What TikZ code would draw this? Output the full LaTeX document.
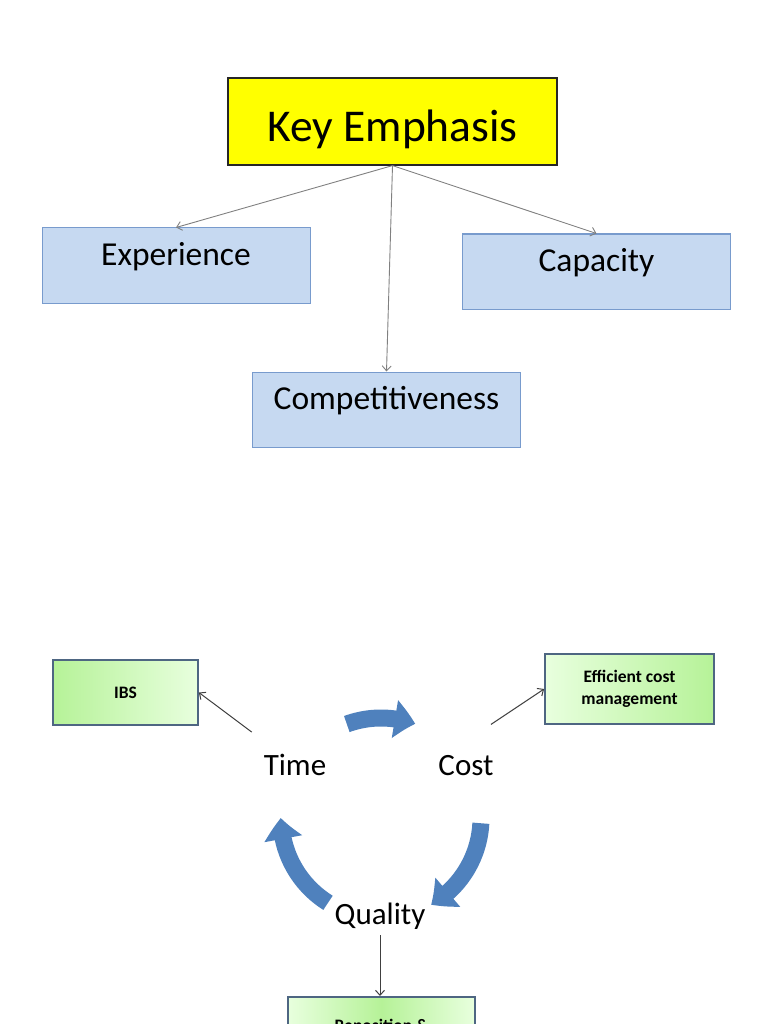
\documentclass[tikz,border=0pt]{standalone}
\usepackage{fontspec}
\setmainfont{Carlito}
\usetikzlibrary{arrows.meta}
\usetikzlibrary{bending}
\usetikzlibrary{positioning}
\usetikzlibrary{calc}
\definecolor{keyyellow}{RGB}{255,255,0}
\definecolor{factorblue}{RGB}{198,217,241}
\definecolor{factorline}{RGB}{120,155,205}
\definecolor{cycleblue}{RGB}{79,129,189}
\definecolor{greenlight}{RGB}{232,255,222}
\definecolor{greendark}{RGB}{182,242,152}
\definecolor{greenline}{RGB}{78,102,130}
\tikzset{
    >={Straight Barb[length=5pt,width=9pt]},
    keybox/.style={draw=black!85, line width=1.2pt, fill=keyyellow,
        minimum width=329pt, inner xsep=0pt, inner ysep=0pt,
        text height=64pt, text depth=23pt, font=\fontsize{45.5}{50}\selectfont},
    factorbox/.style={draw=factorline, line width=1pt, fill=factorblue,
        minimum width=268pt, inner xsep=0pt, inner ysep=0pt,
        text height=37pt, text depth=38pt, font=\fontsize{33.5}{38}\selectfont},
    greenbox/.style={draw=greenline, line width=1.8pt, align=center,
        inner xsep=0pt, inner ysep=0pt, font=\fontsize{17.5}{22}\selectfont\bfseries},
    cycleword/.style={inner sep=0pt, anchor=base, font=\fontsize{31}{36}\selectfont},
    link/.style={draw=black!50, line width=0.9pt, ->},
    darklink/.style={draw=black!75, line width=1pt, ->},
    cyclearrow/.style={draw=cycleblue, line width=17pt,
        -{Triangle[length=21pt,width=37pt,bend]}},
}

\begin{document}
\begin{tikzpicture}[x=1pt, y=1pt]
\useasboundingbox (0,0) rectangle (768,-1024);
\clip (0,0) rectangle (768,-1024);
% top tree
\node[keybox] (key) at (392.5,-121.5) {Key Emphasis};
\node[factorbox] (exp) at (176,-265.5) {Experience};
\node[factorbox] (cap) at (596.5,-271.5) {Capacity};
\node[factorbox] (comp) at (386.5,-409.5) {Competitiveness};
\draw[link] (key.south) -- (exp.north);
\draw[link] (key.south) -- (cap.north);
\draw[link] (key.south) -- (comp.north);
% cycle
\coordinate (ctr) at (381,-818);
\draw[cyclearrow] ($(ctr)+(110:100)$) arc[start angle=110, end angle=70, radius=100];
\draw[cyclearrow] ($(ctr)+(-3:100)$) arc[start angle=-3, end angle=-60, radius=100];
\draw[cyclearrow] ($(ctr)+(238:100)$) arc[start angle=238, end angle=180, radius=100];
\node[cycleword] (time) at (295,-775) {Time};
\node[cycleword] (cost) at (466,-775) {Cost};
\node[cycleword] (quality) at (380,-924) {Quality};
% outcomes
\node[greenbox, left color=greendark, right color=greenlight,
    minimum width=145pt, minimum height=65pt] (ibs) at (125.5,-692.5) {IBS};
\node[greenbox, left color=greenlight, right color=greendark,
    minimum width=169pt, minimum height=70pt] (eff) at (629.5,-689) {Efficient cost\\management};
\node[greenbox, left color=greenlight, right color=greenlight, middle color=greendark,
    minimum width=187pt, text height=35pt, text depth=33pt, anchor=north] (repo) at (381.5,-996) {Reposition \&};
\draw[darklink, shorten <=54pt] (time.center) -- (ibs.east);
\draw[darklink, shorten <=30pt] ($(cost.center)+(0,24)$) -- (eff.west);
\draw[darklink, shorten <=6pt] (quality.south) -- (quality.south |- repo.north);
\end{tikzpicture}
\end{document}
